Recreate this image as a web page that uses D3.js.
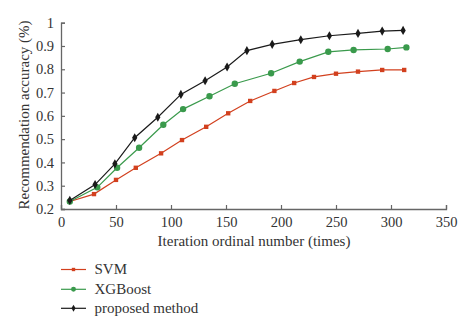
<!DOCTYPE html>
<html><head><meta charset="utf-8">
<script src="https://cdn.jsdelivr.net/npm/d3@7"></script>
<style>body{margin:0;background:#fff}svg{display:block}</style>
</head><body>
<svg id="c" width="474" height="333"></svg>
<script>
const seriesNames = ["SVM", "XGBoost", "proposed method"];
const svmX = [8, 30, 50, 68, 91, 110, 132, 152, 172, 194, 212, 230, 250, 270, 292, 312];
const svmY = [0.232, 0.264, 0.325, 0.377, 0.439, 0.496, 0.553, 0.611, 0.664, 0.707, 0.741, 0.767, 0.781, 0.790, 0.797, 0.797];
const xgbX = [8, 33, 51, 71, 93, 111, 135, 158, 191, 217, 243, 266, 297, 314];
const xgbY = [0.232, 0.293, 0.377, 0.463, 0.562, 0.629, 0.684, 0.738, 0.783, 0.833, 0.875, 0.883, 0.887, 0.894];
const propX = [8, 31, 49, 67, 88, 109, 131, 151, 169, 192, 218, 244, 270, 292, 311];
const propY = [0.237, 0.305, 0.394, 0.506, 0.594, 0.692, 0.751, 0.810, 0.880, 0.907, 0.927, 0.944, 0.954, 0.964, 0.967];
const xTicks = [0, 50, 100, 150, 200, 250, 300, 350];
const yTicks = [0.2, 0.3, 0.4, 0.5, 0.6, 0.7, 0.8, 0.9, 1];
const colors = ["#d2401e", "#3a9a4c", "#1a1a1a"];
const shapes = [d3.symbolSquare, d3.symbolCircle, d3.symbolDiamond];
const sizes = [19, 32, 24];
const FONT = "Liberation Serif";

const svg = d3.select("#c");
const x = d3.scaleLinear().domain([0, 350]).range([61, 446]);
const y = d3.scaleLinear().domain([0.2, 1]).range([209, 22.7]);
const axisCol = "#666";

const xa = svg.append("g").attr("transform", "translate(0,209)")
  .call(d3.axisBottom(x).tickValues(xTicks).tickSize(-4).tickPadding(8).tickFormat(d3.format("d")));
const ya = svg.append("g").attr("transform", "translate(61,0)")
  .call(d3.axisLeft(y).tickValues(yTicks).tickSize(-4).tickPadding(7).tickFormat(d => d === 1 ? "1" : d3.format(".1f")(d)));
[xa, ya].forEach(g => {
  g.attr("font-family", FONT);
  g.select(".domain").attr("stroke", axisCol).attr("stroke-width", 1.3);
  g.selectAll(".tick line").attr("stroke", axisCol).attr("stroke-width", 1.2);
  g.selectAll(".tick text").attr("font-size", 14.5).attr("fill", "#333").attr("font-family", FONT);
});

svg.append("text").attr("x", 254).attr("y", 246).attr("text-anchor", "middle")
  .attr("font-family", FONT).attr("fill", "#333")
  .attr("font-size", 15).text("Iteration ordinal number (times)");
svg.append("text").attr("transform", "translate(29,115) rotate(-90)").attr("text-anchor", "middle")
  .attr("font-family", FONT).attr("fill", "#333")
  .attr("font-size", 15).text("Recommendation accuracy (%)");

const data = [
  svmX.map((d, i) => [d, svmY[i]]),
  xgbX.map((d, i) => [d, xgbY[i]]),
  propX.map((d, i) => [d, propY[i]])
];
const line = d3.line().x(d => x(d[0])).y(d => y(d[1]));
data.forEach((s, k) => {
  svg.append("path").datum(s).attr("d", line).attr("fill", "none")
    .attr("stroke", colors[k]).attr("stroke-width", 1.2);
  svg.selectAll(null).data(s).enter().append("path")
    .attr("transform", d => `translate(${x(d[0])},${y(d[1])})`)
    .attr("d", d3.symbol().type(shapes[k]).size(sizes[k]))
    .attr("fill", colors[k]);
});

const legY = [269.5, 289.3, 308.3];
seriesNames.forEach((n, k) => {
  svg.append("line").attr("x1", 61).attr("x2", 86).attr("y1", legY[k]).attr("y2", legY[k])
    .attr("stroke", colors[k]).attr("stroke-width", 1.2);
  svg.append("path").attr("transform", `translate(73.5,${legY[k]})`)
    .attr("d", d3.symbol().type(shapes[k]).size(sizes[k] * 0.6)).attr("fill", colors[k]);
  svg.append("text").attr("x", 94.5).attr("y", legY[k] + 4.8)
    .attr("font-family", FONT).attr("fill", "#333")
    .attr("font-size", 15).text(n);
});
</script>
</body></html>
